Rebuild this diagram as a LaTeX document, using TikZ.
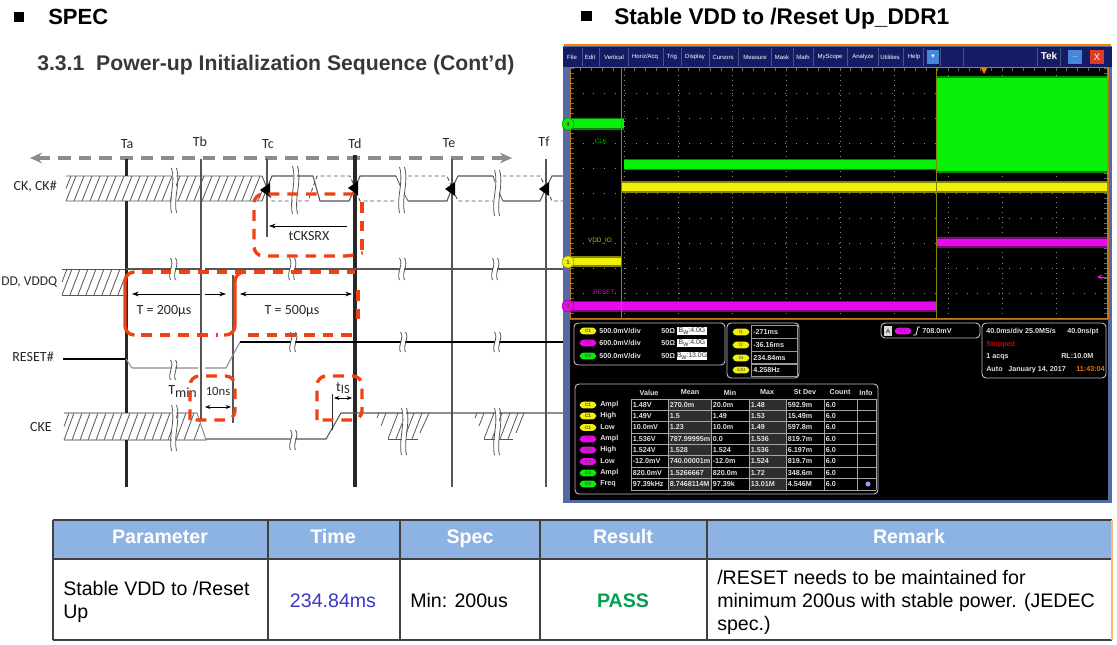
\documentclass[tikz,border=0pt]{standalone}
\usepackage{fontspec}
\setmainfont{Liberation Sans}
\newfontfamily\tfont{Carlito}
\newfontfamily\symfont{DejaVu Sans}
\usetikzlibrary{arrows.meta}
\definecolor{redd}{RGB}{240,65,20}
\definecolor{wave}{RGB}{85,85,85}
\definecolor{lowg}{RGB}{140,140,140}
\definecolor{dark}{RGB}{40,40,40}
\definecolor{frameb}{RGB}{85,105,165}
\definecolor{navy}{RGB}{20,28,100}
\definecolor{orangeb}{RGB}{190,120,30}
\definecolor{chy}{RGB}{240,240,10}
\definecolor{chm}{RGB}{232,10,232}
\definecolor{chg}{RGB}{8,240,8}
\definecolor{thead}{RGB}{141,179,226}
\definecolor{btnb}{RGB}{70,135,220}
\definecolor{btnr}{RGB}{220,60,35}
\newcommand{\hacq}{Horiz/Acq}
\newcommand{\overdt}{1/Δt}
\newcommand{\brkgap}[3]{\fill[white] (#1-2,#2+3) rectangle (#1+2,#3-3);}
\newcommand{\brk}[3]{%
  \draw[wave,line width=.6pt] (#1-2.5,#2) .. controls (#1+2,#2*.67+#3*.33) and (#1-6,#2*.33+#3*.67) .. (#1-2.5,#3);
  \draw[wave,line width=.6pt] (#1+2.5,#2) .. controls (#1+7,#2*.67+#3*.33) and (#1-1,#2*.33+#3*.67) .. (#1+2.5,#3);}
\newcommand{\hrow}[4]{%
  \draw[hatchline] (#1,#3*.5+#4*.5)--(#1+5,#3)
    \foreach \hx in {#1,\the\numexpr#1+8\relax,...,#2} { (\hx,#4)--(\hx+10,#3) };}
\tikzset{
  hatchline/.style={draw=wave,line width=.6pt},
  tl/.style={font=\tfont\fontsize{10.5}{12}\selectfont,text=dark,inner sep=0pt},
  red box/.style={draw=redd,line width=2.5pt,dash pattern=on 8pt off 6pt,rounded corners=7pt},
  red solid/.style={draw=redd,line width=2.5pt,rounded corners=7pt},
  harrow/.style={draw=black,line width=.6pt,-{Stealth[length=5pt,width=3.5pt]}},
  barrow/.style={draw=black,line width=.6pt,{Stealth[length=5pt,width=3.5pt]}-{Stealth[length=5pt,width=3.5pt]}},
  darrow/.style={draw=black,line width=.6pt,{Stealth[length=4pt,width=3pt]}-{Stealth[length=4pt,width=3pt]}},
  scr/.style={font=\fontsize{5.4}{6}\selectfont\bfseries,text=white!88!black,inner sep=0pt},
  scrs/.style={scr,anchor=base west},
  pill/.style={rounded corners=3pt,minimum width=12.5pt,minimum height=5.2pt,inner sep=0pt,font=\fontsize{3.5}{4}\selectfont\bfseries,text=black!70},
  cellh/.style={font=\fontsize{14.7}{16}\selectfont\bfseries,text=white,anchor=base,inner sep=0pt},
  cellt/.style={font=\fontsize{14.7}{16}\selectfont,text=black,anchor=base west,inner sep=0pt},
  tline/.style={draw=black!75,line width=.8pt},
  chanm/.style={circle,inner sep=0pt,minimum size=9pt,font=\fontsize{4.5}{5}\selectfont\bfseries,text=black!70},
  rb/.style={draw=black!25,line width=.7pt,rounded corners=3pt},
}
\begin{document}
\begin{tikzpicture}[x=0.75pt,y=-0.75pt]
\useasboundingbox (0,0) rectangle (1117,645);
% headings
\fill[black] (14,12) rectangle (24,22);
\node[anchor=base west,inner sep=0pt,font=\fontsize{16.5}{18}\selectfont\bfseries] (hspec) at (48,25) {SPEC};
\fill[black] (581,11) rectangle (592,21);
\node[anchor=base west,inner sep=0pt,font=\fontsize{17}{18}\selectfont\bfseries] (hstable) at (614,25) {Stable VDD to /Reset Up\_DDR1};
\node[anchor=base west,inner sep=0pt,text=black!78,font=\fontsize{15.9}{18}\selectfont\bfseries] (htitle) at (37,71) {3.3.1\ \ Power-up Initialization Sequence (Cont'd)};
% top labels
\foreach \x/\y/\t in {127/144/Ta,200/142/Tb,268/144/Tc,355/144/Td,449/143/Te,544/142/Tf}
  \node[tl] (lab\t) at (\x,\y) {\t};
\node[tl,anchor=east] (lck) at (57,187) {CK, CK\#};
\node[tl,anchor=west,font=\tfont\fontsize{10.1}{12}\selectfont] (lvdd) at (1,282) {DD, VDDQ};
\node[tl,anchor=east] (lrst) at (54,357) {RESET\#};
\node[tl,anchor=east] (lcke) at (52,427) {CKE};
% time axis
\coordinate (axl) at (30,158); \coordinate (axr) at (512,158);
\draw[lowg,line width=2.4pt,dash pattern=on 9.5pt off 6pt,{Stealth[length=9pt,width=8pt]}-{Stealth[length=9pt,width=8pt]}] (axl)--(axr);
% hatch
\hrow{66}{250}{176}{201}
\draw[hatchline] (258,201)--(263,188.5);
\hrow{62}{118}{269}{295}
\hrow{64}{186}{413}{440}
\draw[hatchline] (194,440)--(200,424);
\draw[hatchline] (388,439)--(398,413) (396,439)--(406,413) (404,439)--(414,413) (412,439)--(422,413);
\draw[hatchline] (377,418)--(379,413) (381,426)--(386,413) (420,433)--(429,413);
\draw[hatchline] (484,439)--(494,413) (492,439)--(502,413) (500,439)--(510,413) (508,439)--(518,413);
\draw[hatchline] (475,418)--(477,413) (479,426)--(484,413) (516,433)--(524,413);
\draw[wave,line width=.7pt] (66,176)--(262,176)--(267,188)--(262,201)--(66,201);
\draw[wave,line width=.7pt] (62,269)--(126,269) (62,295)--(126,295);
\draw[lowg,line width=.8pt] (64,413)--(197,413)--(206,440)--(64,440);
\draw[wave,line width=.7pt] (388,439)--(418,439) (484,439)--(513,439);
% vertical time lines
\draw[wave,line width=.8pt] (201,159)--(201,421);
\draw[wave,line width=.8pt] (267,159)--(267,237);
\draw[wave,line width=.8pt] (233,275)--(233,423);
\draw[wave,line width=.8pt] (452,159)--(452,487);
\draw[wave,line width=.8pt] (546,159)--(546,487);
\draw[dark,line width=2.9pt] (126.5,159)--(126.5,176) (126.5,201)--(126.5,413) (126.5,440)--(126.5,487);
\draw[dark,line width=2.9pt] (355,155)--(355,487);
% CK wave
\draw[wave,line width=.8pt] (267,188)--(272,176)--(313,176)--(320,201)--(349,201)--(355,188)--(360,176)--(396,176)
 (408,201)--(447,201)--(452,188)--(458,176)--(493,176) (503,201)--(540,201)--(546,188)--(552,176)--(563,176);
\draw[wave,line width=.6pt] (396,176)--(402,190)--(408,201) (493,176)--(498,190)--(503,201);
\draw[wave,line width=.7pt,densely dashed] (267,188)--(272,201)--(308,201)--(317,176)--(350,176)--(355,188)--(360,201)--(396,201)
 (408,176)--(447,176)--(452,188)--(458,201)--(493,201) (503,176)--(540,176)--(546,188)--(552,201)--(563,201);
\foreach \x/\y in {267/190,355/188,452/189,546/189}
  \fill[black] (\x-7,\y)--(\x+3,\y-7)--(\x+3,\y+7)--cycle;
% VDD / RESET / CKE
\draw[wave,line width=.8pt] (126,269)--(202,269) (205,269)--(563,269);
\draw[black,line width=.8pt] (63,359)--(126,359);
\draw[lowg,line width=.8pt] (126,359)--(132,368)--(198,368) (205,368)--(226,368)--(240,342);
\draw[black,line width=1.8pt] (240,342)--(563,342);
\draw[wave,line width=.8pt] (206,439)--(326,439)--(341,413)--(563,413);
% breaks
\foreach \x/\a/\b in {174/168/213,295/166/214,402/167/213,497/170/216,
  173/258/280,292/258/280,402/258/280,495/258/280,
  173/360/380,293/332/352,403/332/352,497/332/352,
  174/405/451,293/430/450,404/408/455,497/408/455}
  {\brkgap{\x}{\a}{\b}\brk{\x}{\a}{\b}}
% dimensions
\coordinate (ckl) at (269,226); \coordinate (ckr) at (347,226);
\draw[harrow] (ckr)--(ckl);
\node[tl] (tck) at (309,236) {tCKSRX};
\draw[harrow] (200,294)--(132,294);
\draw[harrow] (205,294)--(226,294);
\draw[barrow] (240,294)--(352,294);
\node[tl] (t200) at (164,311) {T = 200µs};
\node[tl] (t500) at (292,311) {T = 500µs};
\node[tl,anchor=base west] (tmin) at (168,394) {T\raisebox{-2.5pt}{min}};
\node[tl,font=\tfont\fontsize{9.5}{11}\selectfont] (tens) at (218,391) {10ns};
\draw[darrow] (205,407)--(231,407);
\node[tl] (tis) at (343,388) {t\raisebox{-1pt}{\fontsize{9.5}{10}\selectfont IS}};
\draw[darrow] (334,398)--(352,398);
\draw[dark,line width=.6pt] (332,394)--(332,430);
% red markers
\draw[red box] (354,194)--(254,194)--(254,256)--(354,256)--(362,253);
\draw[red box,rounded corners=0pt] (362,202)--(362,250);
\draw[red box,rounded corners=0pt] (142,272)--(355,272);
\draw[red solid] (133,272)--(125,272)--(125,335)--(133,335);
\draw[red box,rounded corners=0pt] (141,335)--(218,335);
\draw[red solid] (224,335)--(235,335)--(235,272)--(244,272);
\draw[red box,rounded corners=0pt] (248,335)--(354,335);
\draw[red box,rounded corners=0pt] (358,290)--(358,325);
\draw[red box] (190,420)--(190,376)--(235,376)--(235,420)--(190,420);
\draw[red box] (317,420)--(317,376)--(362,376)--(362,420)--(317,420);
% ------------- oscilloscope
\fill[frameb] (563,46) rectangle (1112,503);
\draw[orange,line width=1pt] (564,45)--(1111,45);
\fill[navy] (563,47) rectangle (1112,67);
\foreach \x in {582,599,628,663,681,709,738,771,793,813,847,878,903,923,940,963,1037,1060}
  \draw[black!20!frameb,line width=.4pt] (\x,48)--(\x,66);
\foreach \x/\t [count=\i] in {572/File,590/Edit,614/Vertical,645/\hacq,672/Trig,695/Display,723/Cursors,755/Measure,782/Mask,803/Math,830/MyScope,863/Analyze,890/Utilities,914/Help}
  \node[inner sep=0pt,text=white,font=\fontsize{4.5}{5}\selectfont] (menu\i) at (\x,57) {\t};
\node[fill=btnb,minimum width=9.5pt,minimum height=10.5pt,inner sep=0pt,text=white,font=\symfont\fontsize{5}{5}\selectfont] (dropb) at (933,57) {▾};
\node[inner sep=0pt,text=white,font=\fontsize{7.5}{8}\selectfont\bfseries] (tek) at (1049,56) {Tek};
\node[fill=btnb,minimum width=10.5pt,minimum height=11pt,inner sep=0pt,text=white,font=\fontsize{6}{6}\selectfont\bfseries] (minb) at (1075,57) {\_};
\node[fill=btnr,minimum width=10.5pt,minimum height=11pt,inner sep=0pt,text=white,font=\fontsize{7}{7}\selectfont] (xb) at (1097,57) {X};
% screen
\fill[black] (570,67) rectangle (1108,318);
\fill[black] (570,320) rectangle (1108,500);
\draw[orangeb,line width=1pt] (570.5,67.5) rectangle (1108,318.5);
% graticule
\foreach \i in {1,...,9}{
  \draw[black!45,line width=.5pt,dash pattern=on .6pt off 3.2pt] (570+54*\i,70)--(570+54*\i,316);
  \draw[black!45,line width=.5pt,dash pattern=on .6pt off 7.4pt] (572,68+25*\i)--(1106,68+25*\i);
}
\foreach \i in {0,...,49}{
  \draw[black!60,line width=.5pt] (570+10.8*\i,68)--(570+10.8*\i,71);
  \draw[black!60,line width=.5pt] (571,68+5*\i)--(574,68+5*\i);
  \draw[black!60,line width=.5pt] (1104,68+5*\i)--(1107,68+5*\i);
}
% traces
\fill[chg!55!black] (571,118) rectangle (624,130);
\fill[chg] (571,119.5) rectangle (624,128);
\fill[chg!55!black] (624,159) rectangle (936,170);
\fill[chg] (624,160.5) rectangle (936,169);
\fill[chg!55!black] (936,76) rectangle (1107,173);
\fill[chg] (936,78) rectangle (1107,171);
\fill[chy!55!black] (621,181) rectangle (1107,193);
\fill[chy] (621,183) rectangle (1107,191);
\fill[chy!55!black] (571,256) rectangle (621,267);
\fill[chy] (571,258) rectangle (621,265);
\draw[chy,line width=1.2pt] (621.5,262)--(621.5,183);
\fill[chm!55!black] (571,301) rectangle (936,312);
\fill[chm] (571,302.5) rectangle (936,310);
\fill[chm!55!black] (936,237) rectangle (1107,248);
\fill[chm] (936,239) rectangle (1107,246.5);
\draw[chy!55!black,line width=.5pt] (621.5,68)--(621.5,318) (936,68)--(936,318);
\node[chanm,fill=chg,draw=chg!60!black] (m4) at (568,124) {4};
\node[chanm,fill=chy,draw=chy!60!black] (m1) at (568,262) {1};
\node[chanm,fill=chm,draw=chm!60!black] (m3) at (568,306) {3};
\node[inner sep=0pt,text=chg!75!black,font=\fontsize{4.8}{5}\selectfont] (lclk) at (601,141) {CLK};
\node[inner sep=0pt,text=chy!80!black,font=\fontsize{4.8}{5}\selectfont] (lvio) at (600,241) {VDD\_IO};
\node[inner sep=0pt,text=chm!85!black,font=\fontsize{4.8}{5}\selectfont] (lres) at (604,292) {RESET};
\fill[orange] (981,68)--(987,68)--(984,74)--cycle;
\coordinate (pa) at (1107,277); \coordinate (pb) at (1097,277);
\draw[chm,line width=.6pt,-{Stealth[length=4pt,width=4pt]}] (pa)--(pb);
% readout boxes
\draw[rb] (574,323) rectangle (725,365);
\draw[rb] (727,323) rectangle (799,378);
\draw[rb] (881,323) rectangle (980,338);
\draw[rb] (982,323) rectangle (1106,378);
\draw[rb] (575,384) rectangle (878,494);
\foreach \y/\cl/\pn/\vd/\bw [count=\i] in {331/chy/C1/500.0mV/4.0G,343/chm/C3/600.0mV/4.0G,356/chg/C4/500.0mV/13.0G}{
  \node[pill,fill=\cl] (cp\i) at (588,\y) {\pn};
  \node[scr,anchor=west] (cv\i) at (599,\y) {\vd{}/div};
  \node[scr,anchor=west] (co\i) at (661,\y) {50Ω};
  \node[fill=white,text=black!80,minimum width=22.5pt,minimum height=6.5pt,inner sep=0pt,font=\fontsize{5.2}{6}\selectfont] (cb\i) at (692,\y) {B\raisebox{-1pt}{w}:\bw};
}
\foreach \y/\pn/\vv [count=\i] in {332/t1/-271ms,345/t2/-36.16ms,358/Δt/234.84ms,370/\overdt/4.258Hz}{
  \node[pill,fill=chy,font=\fontsize{3.5}{4}\selectfont] (tp\i) at (741,\y) {\pn};
  \node[scr,anchor=west] (tv\i) at (753,\y) {\vv};
  \draw[black!40,line width=.6pt] (751,\y-6.5) rectangle (797,\y+6.2);
}
\node[fill=white!85!black,text=black,minimum width=6pt,minimum height=7pt,inner sep=0pt,font=\fontsize{4.5}{5}\selectfont] (trA) at (888,331) {A};
\node[pill,fill=chm] (trC) at (903,331) {C3};
\node[scr,anchor=west] (trv) at (921,331) {\,708.0mV};
\draw[white,line width=.6pt] (913,335)--(916,335)--(918,327)--(920,327);
\node[scrs] (r1a) at (986,333) {40.0ms/div 25.0MS/s};
\node[scrs] (r1b) at (1067,333) {40.0ns/pt};
\node[scrs,text=red!85!black] (r2) at (986,346) {Stopped};
\node[scrs] (r3a) at (986,358) {1 acqs};
\node[scrs] (r3b) at (1061,358) {RL:10.0M};
\node[scrs] (r4a) at (986,371) {Auto};
\node[scrs] (r4b) at (1008,371) {January 14, 2017};
\node[scrs,text=orange!90!black] (r4c) at (1076,371) {11:43:04};
% stats table
\fill[black!82] (668,399) rectangle (711,490);
\fill[black!82] (749,399) rectangle (786,490);
\foreach \x/\t in {649/Value,690/Mean,730/Min,767/Max,805/St Dev,840/Count,866/Info}
  \node[scr] (sh\t) at (\x,392.5) {\t};
\foreach \x in {631,668,711,749,786,824,857,876}
  \draw[black!35,line width=.6pt] (\x,399)--(\x,490);
\foreach \i in {0,...,8}
  \draw[black!35,line width=.6pt] (631,399+11.375*\i)--(876,399+11.375*\i);
\foreach \y/\cl/\pn/\na/\va/\vb/\vc/\vd/\ve [count=\i] in {
 405/chy/C1/Ampl/1.48V/270.0m/20.0m/1.48/592.9m,
 416/chy/C1/High/1.49V/1.5/1.49/1.53/15.49m,
 427.5/chy/C1/Low/10.0mV/1.23/10.0m/1.49/597.8m,
 439/chm/C3/Ampl/1.536V/787.99995m/0.0/1.536/819.7m,
 450/chm/C3/High/1.524V/1.528/1.524/1.536/6.197m,
 461.5/chm/C3/Low/-12.0mV/740.00001m/-12.0m/1.524/819.7m,
 473/chg/C4/Ampl/820.0mV/1.5266667/820.0m/1.72/348.6m,
 484/chg/C4/Freq/97.39kHz/8.7468114M/97.39k/13.01M/4.546M}{
  \node[pill,fill=\cl] (sp\i) at (588,\y) {\pn};
  \node[scr,anchor=west] (sn\i) at (600,\y) {\na};
  \node[scr,anchor=west] (sa\i) at (632.5,\y) {\va};
  \node[scr,anchor=west] (sb\i) at (669.5,\y) {\vb};
  \node[scr,anchor=west] (sc\i) at (712.5,\y) {\vc};
  \node[scr,anchor=west] (sd\i) at (750.5,\y) {\vd};
  \node[scr,anchor=west] (se\i) at (787.5,\y) {\ve};
  \node[scr,anchor=west] (sf\i) at (825.5,\y) {6.0};
}
\fill[blue!40!white] (868,484) circle (2.5);
% ------------- result table
\fill[thead] (53,520) rectangle (1112,559);
\draw[tline] (53,520)--(1112,520) (53,559)--(1112,559) (53,640)--(1112,640);
\draw[tline] (53,520)--(53,640) (268,520)--(268,640) (400,520)--(400,640) (540,520)--(540,640) (707,520)--(707,640);
\draw[orange!55!white,line width=1pt] (1112,520)--(1112,640);
\node[cellh] (hp) at (160,543) {Parameter};
\node[cellh] (ht) at (333,543) {Time};
\node[cellh] (hs) at (470,543) {Spec};
\node[cellh] (hr) at (623,543) {Result};
\node[cellh] (hm) at (909,543) {Remark};
\node[cellt] (c1a) at (63,595) {Stable VDD to /Reset};
\node[cellt] (c1b) at (63,618) {Up};
\node[cellt,anchor=base,text={rgb,255:red,55;green,55;blue,200}] (c2) at (333,607) {234.84ms};
\node[cellt] (c3) at (410,607) {Min: 200us};
\node[cellt,anchor=base,font=\fontsize{14.7}{16}\selectfont\bfseries,text={rgb,255:red,0;green,160;blue,80}] (c4) at (623,607) {PASS};
\node[cellt] (c5a) at (717,584) {/RESET needs to be maintained for};
\node[cellt] (c5b) at (717,607) {minimum 200us with stable power. (JEDEC};
\node[cellt] (c5c) at (717,630) {spec.)};
\end{tikzpicture}
\end{document}
